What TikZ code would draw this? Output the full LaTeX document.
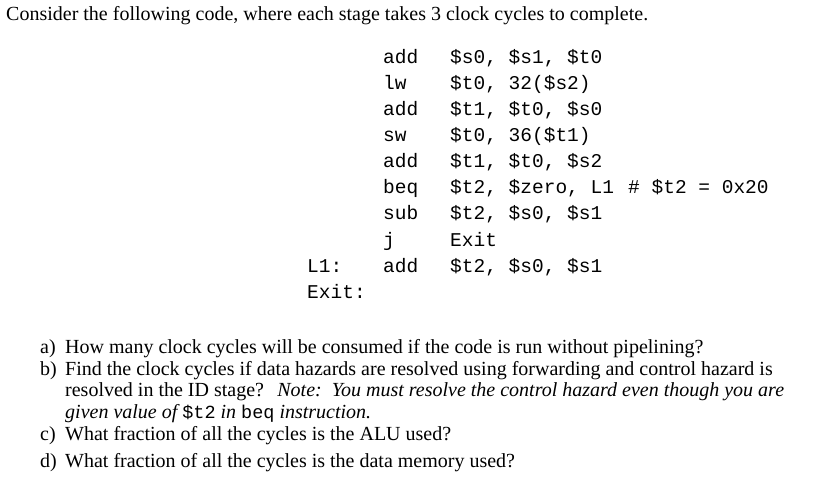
\documentclass[tikz,border=0pt]{standalone}
\usepackage{fontspec}
\setmainfont{Liberation Serif}
\setmonofont{Liberation Mono}
\begin{document}
\begin{tikzpicture}[x=1pt,y=-1pt,
  txt/.style={anchor=base west,inner sep=0pt,font=\fontsize{20}{22}\selectfont},
  code/.style={anchor=base west,inner sep=0pt,font=\fontsize{19.5}{22}\ttfamily}]
\useasboundingbox (0,0) rectangle (825,483);
\node[txt] (t0) at (6,20) {Consider the following code, where each stage takes 3 clock cycles to complete.};
\foreach \op/\args/\y [count=\i] in {add/{\$s0, \$s1, \$t0}/63, lw/{\$t0, 32(\$s2)}/89, add/{\$t1, \$t0, \$s0}/115, sw/{\$t0, 36(\$t1)}/141, add/{\$t1, \$t0, \$s2}/167, beq/{\$t2, \$zero, L1}/193, sub/{\$t2, \$s0, \$s1}/219, j/{Exit}/246, add/{\$t2, \$s0, \$s1}/272}{
  \node[code] (op\i) at (383,\y) {\op};
  \node[code] (ar\i) at (450,\y) {\args};
}
\node[code] (cm) at (628,193) {\# \$t2 = 0x20};
\node[code] (l1) at (307,272) {L1:};
\node[code] (ex) at (307,298) {Exit:};
\node[txt] (qa) at (40,353) {a)};
\node[txt] (ta) at (65,353) {How many clock cycles will be consumed if the code is run without pipelining?};
\node[txt] (qb) at (40,375) {b)};
\node[txt] (tb1) at (65,375) {Find the clock cycles if data hazards are resolved using forwarding and control hazard is};
\node[txt] (tb2) at (65,396) {resolved in the ID stage? \textit{ Note:\, You must resolve the control hazard even though you are}};
\node[txt] (tb3) at (65,418) {\textit{given value of {\upshape\ttfamily\fontsize{18.5}{20}\selectfont\$t2} in {\upshape\ttfamily\fontsize{18.5}{20}\selectfont beq} instruction.}};
\node[txt] (qc) at (40,440) {c)};
\node[txt] (tc) at (65,440) {What fraction of all the cycles is the ALU used?};
\node[txt] (qd) at (40,467) {d)};
\node[txt] (td) at (65,467) {What fraction of all the cycles is the data memory used?};
\end{tikzpicture}
\end{document}
